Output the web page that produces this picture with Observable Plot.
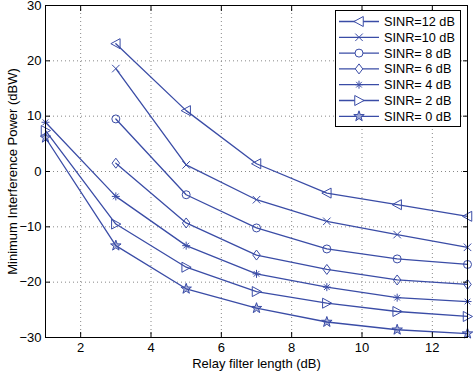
<!DOCTYPE html>
<html>
<head>
<meta charset="utf-8">
<script src="https://cdn.jsdelivr.net/npm/d3@7"></script>
<script src="https://cdn.jsdelivr.net/npm/@observablehq/plot@0.6"></script>
<style>
  html, body { margin: 0; padding: 0; background: #fff; }
  #chart { width: 474px; height: 372px; }
</style>
</head>
<body>
<div id="chart"></div>
<script>
// ---- Data ----
const filterLengths = [1, 3, 5, 7, 9, 11, 13];
const seriesNames = ["SINR=12 dB", "SINR=10 dB", "SINR= 8 dB", "SINR= 6 dB", "SINR= 4 dB", "SINR= 2 dB", "SINR= 0 dB"];
const sinr12 = [null, 23.1, 11.0, 1.4, -3.9, -6.0, -8.1];
const sinr10 = [null, 18.6, 1.2, -5.1, -9.0, -11.4, -13.7];
const sinr8  = [null, 9.5, -4.2, -10.2, -14.0, -15.8, -16.8];
const sinr6  = [null, 1.5, -9.3, -15.1, -17.7, -19.6, -20.4];
const sinr4  = [8.9, -4.5, -13.4, -18.5, -20.9, -22.8, -23.5];
const sinr2  = [7.4, -9.5, -17.3, -21.7, -23.8, -25.3, -26.2];
const sinr0  = [6.1, -13.4, -21.2, -24.7, -27.2, -28.6, -29.3];
const xTicks = [2, 4, 6, 8, 10, 12];
const yTicks = [-30, -20, -10, 0, 10, 20, 30];
const xLabel = "Relay filter length (dB)";
const yLabel = "Minimum Interference Power (dBW)";

const allSeries = [sinr12, sinr10, sinr8, sinr6, sinr4, sinr2, sinr0];
const rows = [];
allSeries.forEach((vals, si) => {
  vals.forEach((v, i) => {
    if (v !== null) rows.push({series: seriesNames[si], x: filterLengths[i], y: v});
  });
});

const color = "#3a4ca6";

// ---- Custom MATLAB-like marker symbols ----
const R = s => Math.sqrt(s / Math.PI);
const symTriLeft = {draw(c, s) { const r = R(s); c.moveTo(-r, 0); c.lineTo(r * 0.85, -r); c.lineTo(r * 0.85, r); c.closePath(); }};
const symTriRight = {draw(c, s) { const r = R(s); c.moveTo(r, 0); c.lineTo(-r * 0.85, -r); c.lineTo(-r * 0.85, r); c.closePath(); }};
const symTimes = {draw(c, s) { const r = R(s) * 0.75; c.moveTo(-r, -r); c.lineTo(r, r); c.moveTo(r, -r); c.lineTo(-r, r); }};
const symCircle = {draw(c, s) { const r = R(s) * 0.8; c.moveTo(r, 0); c.arc(0, 0, r, 0, 2 * Math.PI); }};
const symDiamond = {draw(c, s) { const r = R(s); c.moveTo(0, -r); c.lineTo(r * 0.75, 0); c.lineTo(0, r); c.lineTo(-r * 0.75, 0); c.closePath(); }};
const symAsterisk = {draw(c, s) { const r = R(s) * 0.8; const d = r * 0.7071;
  c.moveTo(-r, 0); c.lineTo(r, 0); c.moveTo(0, -r); c.lineTo(0, r);
  c.moveTo(-d, -d); c.lineTo(d, d); c.moveTo(d, -d); c.lineTo(-d, d); }};
const symStar = {draw(c, s) { const r = R(s) * 1.1, ri = r * 0.4;
  for (let k = 0; k < 10; k++) { const a = -Math.PI / 2 + k * Math.PI / 5; const rr = k % 2 ? ri : r;
    const px = rr * Math.cos(a), py = rr * Math.sin(a); if (k === 0) c.moveTo(px, py); else c.lineTo(px, py); }
  c.closePath(); }};
const symbols = [symTriLeft, symTimes, symCircle, symDiamond, symAsterisk, symTriRight, symStar];
const mr = 5;

function legendMark(index, scales, values, dims) {
  const g = d3.create("svg:g");
  const boxRight = dims.width - dims.marginRight - 7;
  const boxLeft = boxRight - 125;
  const boxTop = dims.marginTop + 5;
  const rowH = 15.8;
  g.append("rect").attr("x", boxLeft + 0.5).attr("y", boxTop + 0.5).attr("width", 125).attr("height", 116)
    .attr("fill", "white").attr("stroke", "black").attr("stroke-width", 1);
  seriesNames.forEach((name, i) => {
    const cy = boxTop + 11.5 + i * rowH;
    g.append("line").attr("x1", boxLeft + 4).attr("x2", boxLeft + 44).attr("y1", cy).attr("y2", cy)
      .attr("stroke", color).attr("stroke-width", 1.3);
    g.append("path").attr("transform", `translate(${boxLeft + 24},${cy})`)
      .attr("d", d3.symbol(symbols[i], mr * mr * Math.PI)())
      .attr("fill", i === 6 ? "#9ba5d3" : (i === 4 ? color : "white"))
      .attr("fill-opacity", i === 4 ? 0 : 1)
      .attr("stroke", color).attr("stroke-width", 1);
    g.append("text").attr("x", boxLeft + 49).attr("y", cy).attr("dy", "0.35em")
      .attr("text-anchor", "start")
      .attr("fill", "black").attr("font-size", 12.7).text(name);
  });
  return g.node();
}

const chart = Plot.plot({
  width: 474,
  height: 372,
  marginLeft: 45,
  marginRight: 7,
  marginTop: 5,
  marginBottom: 35,
  style: {fontFamily: "'Liberation Sans', Arial, Helvetica, sans-serif", fontSize: "13px", background: "white", color: "black"},
  x: {domain: [1, 13]},
  y: {domain: [-30, 30]},
  marks: [
    Plot.gridX(xTicks, {stroke: "#888", strokeOpacity: 1, strokeDasharray: "1,3"}),
    Plot.gridY(yTicks, {stroke: "#888", strokeOpacity: 1, strokeDasharray: "1,3"}),
    Plot.line(rows, {x: "x", y: "y", z: "series", stroke: color, strokeWidth: 1.3}),
    ...seriesNames.map((name, i) => Plot.dot(rows.filter(d => d.series === name), {
      x: "x", y: "y", symbol: symbols[i], r: mr, stroke: color, strokeWidth: 1,
      fill: i === 6 ? color : "none", fillOpacity: i === 6 ? 0.4 : 0
    })),
    Plot.frame({stroke: "black"}),
    Plot.axisX(xTicks, {anchor: "bottom", tickSize: 0, tickPadding: 5, label: null, fontSize: 13}),
    Plot.axisY(yTicks, {anchor: "left", tickSize: 0, tickPadding: 4, label: null, fontSize: 13}),
    Plot.axisX(xTicks, {anchor: "bottom", tickSize: -5, text: null, label: null}),
    Plot.axisX(xTicks, {anchor: "top", tickSize: -5, text: null, label: null}),
    Plot.axisY(yTicks, {anchor: "left", tickSize: -5, text: null, label: null}),
    Plot.axisY(yTicks, {anchor: "right", tickSize: -5, text: null, label: null}),
    Plot.text([xLabel], {frameAnchor: "bottom", textAnchor: "middle", dy: 26, lineAnchor: "middle", fontSize: 13, fill: "black"}),
    Plot.text([yLabel], {frameAnchor: "left", textAnchor: "middle", dx: -33, rotate: -90, lineAnchor: "middle", fontSize: 13, fill: "black"}),
    legendMark
  ]
});
document.getElementById("chart").appendChild(chart);
</script>
</body>
</html>
